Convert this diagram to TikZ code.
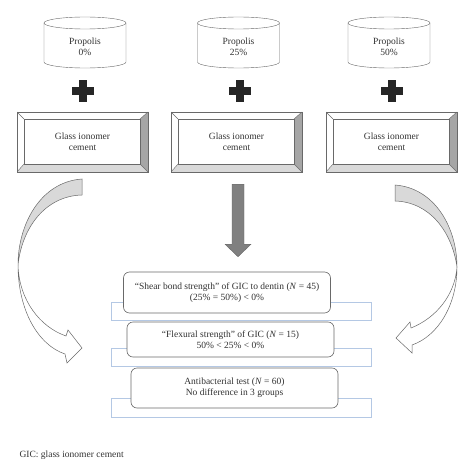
\documentclass[tikz,border=0pt]{standalone}
\usepackage{fontspec}
\setmainfont{Liberation Serif}
\usetikzlibrary{positioning,calc}
\definecolor{txtgray}{RGB}{50,50,50}
\definecolor{linegray}{RGB}{105,105,105}
\definecolor{facelight}{RGB}{217,217,217}
\definecolor{facedark}{RGB}{166,166,166}
\definecolor{arrowgray}{RGB}{128,128,128}
\definecolor{boxblue}{RGB}{180,200,228}
\tikzset{
    txt/.style={text=txtgray, align=center, font=\fontsize{9.5}{11}\selectfont},
    bevelbox/.style={txt, draw=linegray, minimum width=131, minimum height=60, inner sep=0pt,
        path picture={
            \fill[facedark] (path picture bounding box.north east) -- (path picture bounding box.south east)
                -- ([shift={(-8,-8)}]path picture bounding box.south east) -- ([shift={(-8,7)}]path picture bounding box.north east) -- cycle;
            \fill[facelight] (path picture bounding box.south west) -- (path picture bounding box.south east)
                -- ([shift={(-8,-8)}]path picture bounding box.south east) -- ([shift={(7,-8)}]path picture bounding box.south west) -- cycle;
            \draw[linegray] ([shift={(7,7)}]path picture bounding box.north west) rectangle ([shift={(-8,-8)}]path picture bounding box.south east);
            \draw[linegray] (path picture bounding box.north west) -- ([shift={(7,7)}]path picture bounding box.north west);
            \draw[linegray] (path picture bounding box.north east) -- ([shift={(-8,7)}]path picture bounding box.north east);
            \draw[linegray] (path picture bounding box.south west) -- ([shift={(7,-8)}]path picture bounding box.south west);
            \draw[linegray] (path picture bounding box.south east) -- ([shift={(-8,-8)}]path picture bounding box.south east);
        }},
    resultbox/.style={txt, draw=linegray, line width=0.6pt, fill=white, rounded corners=6, minimum width=207, inner sep=0pt},
    bluebar/.style={draw=boxblue, line width=0.8pt},
    curvy/.style={draw=linegray, line width=0.5pt},
}
\begin{document}
\begin{tikzpicture}[x=1pt, y=-1pt]
    \useasboundingbox (0,0) rectangle (474,476);

    % propolis cylinders
    \foreach \cx/\pct in {85/0, 238.5/25, 389/50} {
        \draw[linegray, fill=white] (\cx-41,23) -- (\cx-41,62) arc[start angle=180, end angle=0, x radius=41, y radius=6] -- (\cx+41,23);
        \draw[linegray] (\cx,23) ellipse[x radius=41, y radius=6];
        \node[txt] (prop\pct) at (\cx,47) {Propolis\\\pct\%};
    }

    % plus signs
    \foreach \px in {83, 240, 392} {
        \fill[black!85] (\px-11,87) rectangle (\px+11,95);
        \fill[black!85] (\px-4,80) rectangle (\px+4,102);
    }

    % glass ionomer cement
    \node[bevelbox] (gic0) at (82.5,142) {Glass ionomer\\cement};
    \node[bevelbox] (gic25) at (236.5,142) {Glass ionomer\\cement};
    \node[bevelbox] (gic50) at (391.5,142) {Glass ionomer\\cement};

    % blue bars behind the results
    \draw[bluebar] (111,302) rectangle (371,320);
    \draw[bluebar] (111,348) rectangle (371,366);
    \draw[bluebar] (111,398) rectangle (371,417);

    % results
    \node[resultbox, minimum height=41] (shear) at (227,292.5) {``Shear bond strength'' of GIC to dentin (\textit{N} = 45)\\(25\% = 50\%) < 0\%};
    \node[resultbox, minimum height=35] (flex) at (230.5,339.5) {``Flexural strength'' of GIC (\textit{N} = 15)\\50\% < 25\% < 0\%};
    \node[resultbox, minimum height=40] (anti) at (234.5,388) {Antibacterial test (\textit{N} = 60)\\No difference in 3 groups};

    % straight arrow
    \draw[draw=black!60, fill=arrowgray] ($(gic25.south)+(-4.5,12)$) -- ($(gic25.south)+(7.5,12)$) -- ($(gic25.south)+(7.5,72)$)
        -- ($(gic25.south)+(14.5,72)$) -- ($(shear.north)+(11,-15)$) -- ($(gic25.south)+(-11.5,72)$) -- ($(gic25.south)+(-4.5,72)$) -- cycle;

    % left curved arrow
    \fill[facelight, curvy] (82,179) .. controls (40,182) and (18,225) .. (18,265)
        .. controls (22,228) and (45,196) .. (82,195) -- cycle;
    \filldraw[fill=white, curvy] (18,265) .. controls (18,310) and (38,345) .. (65,354)
        -- (67,363) -- (82,348) -- (68,330) -- (66,336) .. controls (40,327) and (19,300) .. (18,265);

    % right curved arrow
    \fill[facelight, curvy] (395,185) .. controls (435,188) and (457,228) .. (457,267)
        .. controls (452,232) and (430,202) .. (395,201) -- cycle;
    \filldraw[fill=white, curvy] (457,267) .. controls (457,305) and (438,336) .. (412,345)
        -- (412,353) -- (396,338) -- (410,322) -- (411,328) .. controls (436,318) and (455,295) .. (457,267);

    % footnote
    \node[txt, anchor=west] (note) at (16,455) {GIC: glass ionomer cement};
\end{tikzpicture}
\end{document}
